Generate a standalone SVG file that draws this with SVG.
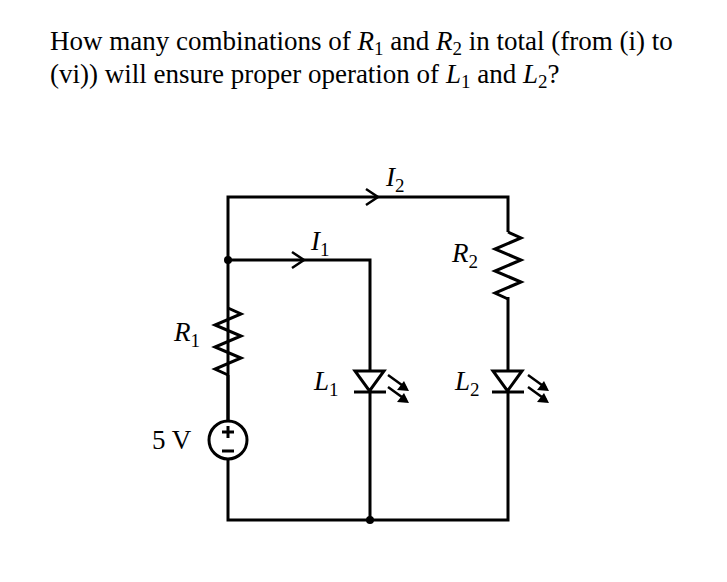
<svg xmlns="http://www.w3.org/2000/svg" width="727" height="582" viewBox="0 0 727 582">
<style>
.w{fill:none;stroke:#000;stroke-width:3;stroke-linejoin:miter}
.t{font-family:"Liberation Serif",serif;font-size:27px;fill:#000}
.i{font-family:"Liberation Serif",serif;font-style:italic;font-size:27px}
.s{font-size:19px;font-style:normal}
.ch{fill:none;stroke:#000;stroke-width:2.5}
</style>
<text class="t" x="50" y="50">How many combinations of <tspan font-style="italic">R</tspan><tspan font-size="19" dy="5">1</tspan><tspan dy="-5"> and </tspan><tspan font-style="italic">R</tspan><tspan font-size="19" dy="5">2</tspan><tspan dy="-5"> in total (from (i) to</tspan></text>
<text class="t" x="50" y="83">(vi)) will ensure proper operation of <tspan font-style="italic">L</tspan><tspan font-size="19" dy="5">1</tspan><tspan dy="-5"> and </tspan><tspan font-style="italic">L</tspan><tspan font-size="19" dy="5">2</tspan><tspan dy="-5">?</tspan></text>
<g id="connectors">
<path class="w" d="M228,421 V262 M228,308 V197 H508 V232"/>
<path class="w" d="M508,297 V520 H228 V459"/>
<path class="w" d="M228,260 H370 V520"/>
<path class="ch" d="M366,189 L378,197 L366,205"/>
<path class="ch" d="M292,252 L304,260 L292,268"/>
<circle cx="228" cy="260" r="4"/>
<circle cx="370" cy="520" r="4"/>
</g>
<g id="R1">
<path class="w" d="M228,308 L241,314 L215,325 L241,336 L215,347 L241,358 L215,369 L228,375"/>
<path class="w" d="M228,375 V421"/>
<text class="i" x="174" y="341">R<tspan class="s" dy="6">1</tspan></text>
</g>
<g id="R2">
<path class="w" d="M508,232 L521,238 L495,249 L521,260 L495,271 L521,282 L495,293 L508,299"/>
<text class="i" x="452" y="262">R<tspan class="s" dy="6">2</tspan></text>
</g>
<g id="V">
<circle cx="228" cy="440" r="19" fill="#fff" stroke="#000" stroke-width="3"/>
<path d="M228,426 V438 M222,432 H234 M222,451 H234" stroke="#000" stroke-width="3"/>
<text class="t" x="152" y="449" font-size="25">5 V</text>
</g>
<g id="L1">
<path d="M355,371 H384 L369.5,391 Z" fill="#fff" stroke="#000" stroke-width="3"/>
<path d="M354,392 H386" stroke="#000" stroke-width="3"/>
<path d="M388,375 L406,388 M388,387 L406,400" stroke="#000" stroke-width="2.5"/>
<path d="M397,390 L409,391 L404,381 Z M397,402 L409,403 L404,393 Z"/>
<text class="i" x="314" y="390">L<tspan class="s" dy="6">1</tspan></text>
</g>
<g id="L2">
<path d="M493,371 H522 L507.5,391 Z" fill="#fff" stroke="#000" stroke-width="3"/>
<path d="M492,392 H524" stroke="#000" stroke-width="3"/>
<path d="M528,375 L546,388 M528,387 L546,400" stroke="#000" stroke-width="2.5"/>
<path d="M537,390 L549,391 L544,381 Z M537,402 L549,403 L544,393 Z"/>
<text class="i" x="455" y="390">L<tspan class="s" dy="6">2</tspan></text>
</g>
<text class="i" x="311" y="250">I<tspan class="s" dy="6">1</tspan></text>
<text class="i" x="386" y="186">I<tspan class="s" dy="6">2</tspan></text>
</svg>
